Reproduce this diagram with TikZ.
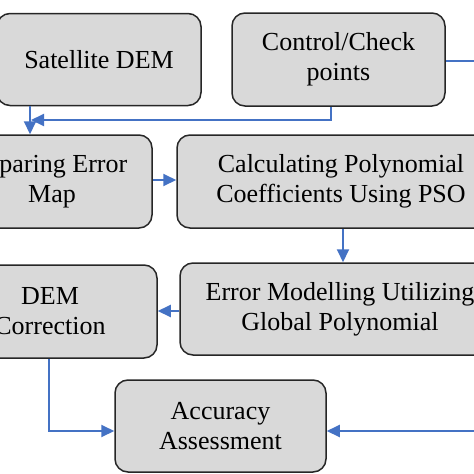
\documentclass[tikz,border=0pt]{standalone}
\usepackage{fontspec}
\setmainfont{Liberation Serif}
\usetikzlibrary{arrows.meta,calc}
\definecolor{boxfill}{HTML}{D9D9D9}
\definecolor{boxline}{HTML}{262626}
\definecolor{arrblue}{HTML}{4472C4}
\begin{document}
\begin{tikzpicture}[x=1pt,y=-1pt,
  box/.style={draw=boxline,fill=boxfill,line width=1.5pt,rounded corners=13pt,
    align=center,inner sep=0pt,font=\fontsize{26pt}{30pt}\selectfont},
  txt/.style={align=center,inner sep=0pt,font=\fontsize{26pt}{30pt}\selectfont},
  arr/.style={draw=arrblue,line width=2pt,-{Triangle[length=13pt,width=12pt]}},
  ln/.style={draw=arrblue,line width=2pt}]
\useasboundingbox (0,0) rectangle (474,474);
\clip (0,0) rectangle (474,474);
\node[box,minimum width=204pt,minimum height=92pt] (sat) at (99,59.5) {Satellite DEM};
\node[box,minimum width=213pt,minimum height=93pt] (ctl) at (338.5,59.5) {Control/Check\\points};
\node[box,minimum width=200pt,minimum height=93pt] (prep) at (52,181.5) {};
\node[txt] (prept) at (46,181.5) {Preparing Error\\\hspace*{12pt}Map};
\node[box,minimum width=328pt,minimum height=93pt] (calc) at (341,181.5) {Calculating Polynomial\\Coefficients Using PSO};
\node[box,minimum width=320pt,minimum height=92pt] (err) at (340,309) {Error Modelling Utilizing\\Global Polynomial};
\node[box,minimum width=214pt,minimum height=93pt] (corr) at (50,311.5) {DEM\\Correction};
\node[box,minimum width=211pt,minimum height=92pt] (acc) at (220.5,426) {Accuracy\\Assessment};
\coordinate (xa) at (30,0);
\coordinate (xc) at (331,0);
\coordinate (j1) at (31,120);
\coordinate (ya) at (0,431);
\coordinate (xr) at (490,0);
\coordinate (xd) at (49,0);
\draw[arr] (sat.south -| xa) -- (prep.north -| xa);
\draw[arr] (ctl.south -| xc) -- (xc |- j1) -- (j1);
\draw[arr] (prep.east |- 0,180) -- (calc.west |- 0,180);
\draw[arr] (calc.south -| 343,0) -- (err.north -| 343,0);
\draw[arr] (err.west |- 0,311) -- (corr.east |- 0,311);
\draw[arr] (corr.south -| xd) -- (xd |- ya) -- (acc.west |- ya);
\draw[arr] (ctl.east |- 0,61) -- (xr |- 0,61) -- (xr |- ya) -- (acc.east |- ya);
\end{tikzpicture}
\end{document}
